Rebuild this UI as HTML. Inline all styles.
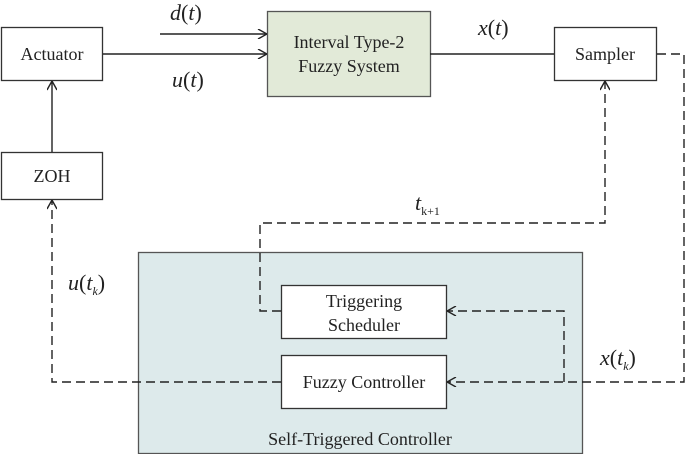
<!DOCTYPE html>
<html><head><style>
html,body{margin:0;padding:0;background:#fff;}
svg{display:block;}
text{font-family:"Liberation Serif",serif;fill:#222;}
.i{font-style:italic;}
</style></head><body>
<svg width="685" height="454" viewBox="0 0 685 454" xmlns="http://www.w3.org/2000/svg">
<defs>
<marker id="a" viewBox="0 0 10 10" refX="10" refY="5" markerWidth="10" markerHeight="10" markerUnits="userSpaceOnUse" orient="auto">
<path d="M1,0 L10,5 L1,10" fill="none" stroke="#222" stroke-width="1.4"/>
</marker>
</defs>
<g stroke="#333" stroke-width="1.3">
<rect x="138.5" y="252.5" width="444" height="201" fill="#ddeaeb" stroke="#555"/>
<rect x="1.5" y="27.5" width="101" height="53" fill="#fff"/>
<rect x="1.5" y="152.5" width="101" height="47" fill="#fff"/>
<rect x="267.5" y="11.5" width="163" height="85" fill="#e2ead8" stroke="#555"/>
<rect x="554.5" y="27.5" width="102" height="53" fill="#fff"/>
<rect x="281.5" y="285.5" width="165" height="53" fill="#fff"/>
<rect x="281.5" y="355.5" width="165" height="53" fill="#fff"/>
</g>
<g stroke="#222" stroke-width="1.4" fill="none">
<line x1="160" y1="34" x2="267" y2="34" marker-end="url(#a)"/>
<line x1="103" y1="54" x2="267" y2="54" marker-end="url(#a)"/>
<line x1="430" y1="54" x2="554" y2="54"/>
<line x1="52" y1="152" x2="52" y2="81" marker-end="url(#a)"/>
</g>
<g stroke="#222" stroke-width="1.4" fill="none" stroke-dasharray="9,5">
<polyline points="657,54 684,54 684,382 447,382" marker-end="url(#a)"/>
<polyline points="564,382 564,311 447,311" marker-end="url(#a)"/>
<polyline points="281,311 260,311 260,223 605,223 605,81" marker-end="url(#a)"/>
<polyline points="281,382 52,382 52,200" marker-end="url(#a)"/>
</g>
<g font-size="18" text-anchor="middle">
<text x="52" y="60">Actuator</text>
<text x="52" y="182">ZOH</text>
<text x="349" y="48">Interval Type-2</text>
<text x="349" y="72">Fuzzy System</text>
<text x="605" y="60">Sampler</text>
<text x="364" y="307">Triggering</text>
<text x="364" y="331">Scheduler</text>
<text x="364" y="388">Fuzzy Controller</text>
<text x="360" y="445">Self-Triggered Controller</text>
</g>
<g font-size="22">
<text x="170" y="20" class="i">d<tspan font-style="normal">(</tspan>t<tspan font-style="normal">)</tspan></text>
<text x="172" y="87" class="i">u<tspan font-style="normal">(</tspan>t<tspan font-style="normal">)</tspan></text>
<text x="478" y="35" class="i">x<tspan font-style="normal">(</tspan>t<tspan font-style="normal">)</tspan></text>
<text x="415" y="210" class="i">t<tspan font-size="12" font-style="normal" dy="5">k+1</tspan></text>
<text x="68" y="290" class="i">u<tspan font-style="normal">(</tspan>t<tspan font-size="12" dy="5">k</tspan><tspan font-style="normal" dy="-5">)</tspan></text>
<text x="600" y="365" class="i">x<tspan font-style="normal">(</tspan>t<tspan font-size="12" dy="5">k</tspan><tspan font-style="normal" dy="-5">)</tspan></text>
</g>
</svg>
</body></html>
